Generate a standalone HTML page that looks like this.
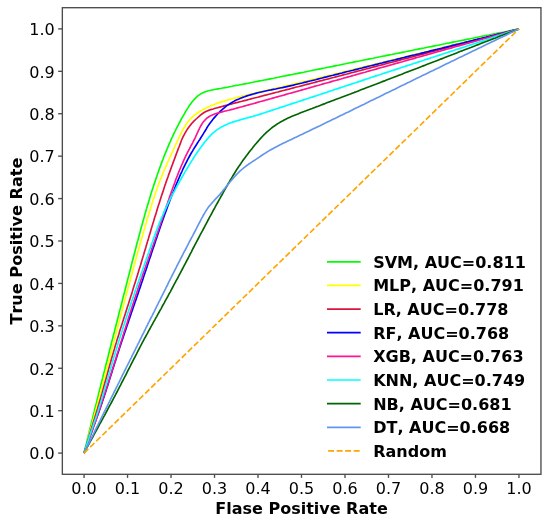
<!DOCTYPE html>
<html><head><meta charset="utf-8"><title>ROC</title>
<style>html,body{margin:0;padding:0;background:#fff;}svg{display:block;filter:blur(0.35px);}text{font-kerning:none;font-feature-settings:"kern" 0;}</style>
</head><body>
<svg width="550" height="522" viewBox="0 0 550 522">
<rect width="550" height="522" fill="#fff"/>
<defs><clipPath id="c"><rect x="62.35" y="7.7" width="478.6" height="466.6"/></clipPath></defs>
<g clip-path="url(#c)" fill="none" stroke-width="1.65" stroke-linejoin="round" stroke-linecap="butt">
<path d="M84.1,453.1 L84.6,450.8 L85.2,448.5 L85.7,446.2 L86.3,443.9 L86.8,441.6 L87.4,439.3 L88.0,437.0 L88.5,434.7 L89.1,432.4 L89.6,430.2 L90.2,427.9 L90.8,425.6 L91.3,423.3 L91.9,421.0 L92.5,418.7 L93.0,416.4 L93.6,414.1 L94.2,411.8 L94.7,409.5 L95.3,407.2 L95.9,404.9 L96.5,402.7 L97.0,400.4 L97.6,398.1 L98.2,395.8 L98.7,393.5 L99.3,391.2 L99.9,388.9 L100.5,386.6 L101.0,384.3 L101.6,382.1 L102.2,379.8 L102.8,377.5 L103.3,375.2 L103.9,372.9 L104.5,370.6 L105.1,368.3 L105.6,366.0 L106.2,363.7 L106.8,361.5 L107.4,359.2 L108.0,356.9 L108.5,354.6 L109.1,352.3 L109.7,350.0 L110.3,347.7 L110.9,345.5 L111.4,343.2 L112.0,340.9 L112.6,338.6 L113.2,336.3 L113.8,334.0 L114.4,331.7 L114.9,329.4 L115.5,327.2 L116.1,324.9 L116.7,322.6 L117.3,320.3 L117.9,318.0 L118.4,315.7 L119.0,313.4 L119.6,311.1 L120.2,308.9 L120.8,306.6 L121.4,304.3 L122.0,302.0 L122.5,299.7 L123.1,297.4 L123.7,295.1 L124.3,292.9 L124.9,290.6 L125.5,288.3 L126.1,286.0 L126.6,283.7 L127.2,281.4 L127.8,279.1 L128.4,276.8 L129.0,274.6 L129.6,272.3 L130.2,270.0 L130.7,267.7 L131.3,265.4 L131.9,263.1 L132.5,260.8 L133.1,258.5 L133.7,256.2 L134.3,254.0 L134.9,251.7 L135.5,249.4 L136.1,247.1 L136.6,244.8 L137.2,242.5 L137.9,240.2 L138.5,238.0 L139.1,235.7 L139.7,233.4 L140.3,231.1 L140.9,228.8 L141.5,226.6 L142.2,224.3 L142.8,222.0 L143.4,219.7 L144.1,217.5 L144.7,215.2 L145.3,212.9 L146.0,210.6 L146.7,208.4 L147.3,206.1 L148.0,203.9 L148.7,201.6 L149.4,199.3 L150.0,197.1 L150.7,194.8 L151.4,192.6 L152.1,190.3 L152.9,188.1 L153.6,185.8 L154.3,183.6 L155.1,181.4 L155.8,179.1 L156.6,176.9 L157.3,174.7 L158.1,172.5 L158.9,170.2 L159.7,168.0 L160.5,165.8 L161.3,163.6 L162.1,161.4 L163.0,159.2 L163.8,157.0 L164.7,154.8 L165.6,152.6 L166.5,150.4 L167.4,148.3 L168.3,146.1 L169.2,143.9 L170.2,141.8 L171.1,139.6 L172.1,137.5 L173.1,135.3 L174.1,133.2 L175.2,131.0 L176.2,128.9 L177.3,126.8 L178.4,124.7 L179.5,122.6 L180.6,120.5 L181.7,118.4 L182.9,116.3 L184.1,114.3 L185.3,112.2 L186.5,110.1 L187.8,108.1 L189.0,106.1 L190.4,104.2 L191.8,102.3 L193.3,100.5 L194.8,98.8 L196.4,97.2 L198.2,95.7 L200.0,94.4 L201.9,93.2 L204.0,92.3 L206.2,91.5 L208.5,90.8 L210.9,90.3 L213.3,89.8 L215.7,89.3 L218.0,88.9 L220.4,88.5 L222.7,88.0 L225.1,87.6 L227.4,87.2 L229.7,86.7 L232.0,86.3 L234.3,85.8 L236.6,85.4 L238.9,85.0 L241.2,84.5 L243.5,84.1 L245.9,83.6 L248.2,83.2 L250.5,82.7 L252.8,82.3 L255.1,81.8 L257.4,81.4 L259.7,80.9 L262.0,80.5 L264.4,80.0 L266.7,79.6 L269.0,79.1 L271.3,78.6 L273.6,78.2 L275.9,77.7 L278.2,77.3 L280.6,76.8 L282.9,76.3 L285.2,75.9 L287.5,75.4 L289.8,74.9 L292.1,74.5 L294.4,74.0 L296.8,73.6 L299.1,73.1 L301.4,72.6 L303.7,72.2 L306.0,71.7 L308.3,71.2 L310.7,70.8 L313.0,70.3 L315.3,69.8 L317.6,69.4 L319.9,68.9 L322.2,68.4 L324.5,68.0 L326.9,67.5 L329.2,67.0 L331.5,66.6 L333.8,66.1 L336.1,65.6 L338.4,65.2 L340.7,64.7 L343.1,64.2 L345.4,63.8 L347.7,63.3 L350.0,62.8 L352.3,62.4 L354.6,61.9 L356.9,61.4 L359.3,61.0 L361.6,60.5 L363.9,60.0 L366.2,59.6 L368.5,59.1 L370.8,58.6 L373.2,58.2 L375.5,57.7 L377.8,57.2 L380.1,56.8 L382.4,56.3 L384.7,55.9 L387.0,55.4 L389.4,54.9 L391.7,54.5 L394.0,54.0 L396.3,53.5 L398.6,53.1 L400.9,52.6 L403.2,52.1 L405.5,51.7 L407.9,51.2 L410.2,50.7 L412.5,50.3 L414.8,49.8 L417.1,49.4 L419.4,48.9 L421.7,48.4 L424.1,48.0 L426.4,47.5 L428.7,47.0 L431.0,46.6 L433.3,46.1 L435.6,45.6 L437.9,45.2 L440.3,44.7 L442.6,44.2 L444.9,43.8 L447.2,43.3 L449.5,42.9 L451.8,42.4 L454.1,41.9 L456.5,41.5 L458.8,41.0 L461.1,40.5 L463.4,40.1 L465.7,39.6 L468.0,39.1 L470.3,38.7 L472.7,38.2 L475.0,37.7 L477.3,37.3 L479.6,36.8 L481.9,36.3 L484.2,35.9 L486.5,35.4 L488.9,35.0 L491.2,34.5 L493.5,34.0 L495.8,33.6 L498.1,33.1 L500.4,32.6 L502.7,32.2 L505.1,31.7 L507.4,31.2 L509.7,30.8 L512.0,30.3 L514.3,29.8 L516.6,29.4 L519.0,28.9" stroke="#00FF00"/>
<path d="M84.0,453.1 L84.7,450.9 L85.3,448.6 L85.9,446.4 L86.5,444.2 L87.2,441.9 L87.8,439.7 L88.4,437.4 L89.0,435.2 L89.6,433.0 L90.2,430.7 L90.8,428.5 L91.5,426.2 L92.1,424.0 L92.7,421.8 L93.3,419.5 L93.9,417.3 L94.5,415.0 L95.1,412.8 L95.7,410.6 L96.3,408.3 L96.9,406.1 L97.5,403.8 L98.1,401.6 L98.7,399.3 L99.3,397.1 L99.9,394.9 L100.5,392.6 L101.1,390.4 L101.7,388.1 L102.3,385.9 L102.9,383.6 L103.5,381.4 L104.0,379.1 L104.6,376.9 L105.2,374.7 L105.8,372.4 L106.4,370.2 L107.0,367.9 L107.6,365.7 L108.2,363.4 L108.8,361.2 L109.4,358.9 L110.0,356.7 L110.5,354.4 L111.1,352.2 L111.7,349.9 L112.3,347.7 L112.9,345.5 L113.5,343.2 L114.1,341.0 L114.7,338.7 L115.3,336.5 L115.9,334.2 L116.4,332.0 L117.0,329.7 L117.6,327.5 L118.2,325.2 L118.8,323.0 L119.4,320.8 L120.0,318.5 L120.6,316.3 L121.2,314.0 L121.8,311.8 L122.4,309.5 L123.0,307.3 L123.6,305.0 L124.2,302.8 L124.8,300.6 L125.3,298.3 L125.9,296.1 L126.5,293.8 L127.1,291.6 L127.7,289.3 L128.3,287.1 L128.9,284.9 L129.6,282.6 L130.2,280.4 L130.8,278.1 L131.4,275.9 L132.0,273.7 L132.6,271.4 L133.2,269.2 L133.8,266.9 L134.4,264.7 L135.0,262.5 L135.6,260.2 L136.3,258.0 L136.9,255.7 L137.5,253.5 L138.1,251.3 L138.7,249.0 L139.4,246.8 L140.0,244.6 L140.6,242.3 L141.2,240.1 L141.9,237.9 L142.5,235.6 L143.1,233.4 L143.8,231.2 L144.4,228.9 L145.1,226.7 L145.7,224.5 L146.4,222.2 L147.0,220.0 L147.7,217.8 L148.3,215.5 L149.0,213.3 L149.7,211.1 L150.4,208.9 L151.0,206.7 L151.7,204.4 L152.4,202.2 L153.1,200.0 L153.9,197.8 L154.6,195.6 L155.3,193.4 L156.1,191.2 L156.9,189.0 L157.6,186.8 L158.4,184.7 L159.2,182.5 L160.1,180.3 L160.9,178.2 L161.8,176.0 L162.7,173.9 L163.5,171.7 L164.4,169.6 L165.4,167.5 L166.3,165.4 L167.2,163.2 L168.2,161.1 L169.1,159.0 L170.1,156.9 L171.1,154.8 L172.0,152.7 L173.0,150.6 L174.0,148.4 L175.0,146.3 L175.9,144.2 L176.9,142.1 L177.9,140.0 L178.9,137.9 L179.9,135.7 L180.9,133.6 L181.9,131.6 L183.0,129.5 L184.2,127.5 L185.4,125.5 L186.6,123.6 L188.0,121.7 L189.4,120.0 L191.0,118.3 L192.7,116.7 L194.4,115.2 L196.2,113.8 L198.1,112.5 L200.1,111.3 L202.1,110.1 L204.1,108.9 L206.2,107.9 L208.3,106.9 L210.5,105.9 L212.7,105.0 L214.8,104.2 L217.0,103.4 L219.2,102.6 L221.4,101.9 L223.6,101.2 L225.8,100.6 L228.0,99.9 L230.3,99.3 L232.5,98.7 L234.7,98.1 L237.0,97.5 L239.2,96.9 L241.5,96.3 L243.7,95.7 L246.0,95.2 L248.2,94.6 L250.5,94.1 L252.7,93.5 L255.0,93.0 L257.2,92.4 L259.5,91.9 L261.8,91.4 L264.0,90.9 L266.3,90.3 L268.5,89.8 L270.8,89.3 L273.1,88.8 L275.3,88.2 L277.6,87.7 L279.9,87.2 L282.1,86.7 L284.4,86.1 L286.6,85.6 L288.9,85.1 L291.2,84.5 L293.4,84.0 L295.7,83.4 L297.9,82.9 L300.2,82.4 L302.4,81.8 L304.7,81.3 L307.0,80.7 L309.2,80.2 L311.5,79.6 L313.7,79.1 L316.0,78.5 L318.2,78.0 L320.5,77.4 L322.7,76.9 L325.0,76.3 L327.3,75.8 L329.5,75.2 L331.8,74.7 L334.0,74.1 L336.3,73.6 L338.5,73.0 L340.8,72.5 L343.0,71.9 L345.3,71.3 L347.5,70.8 L349.8,70.2 L352.1,69.7 L354.3,69.1 L356.6,68.6 L358.8,68.0 L361.1,67.5 L363.3,66.9 L365.6,66.4 L367.8,65.8 L370.1,65.3 L372.4,64.7 L374.6,64.2 L376.9,63.6 L379.1,63.1 L381.4,62.5 L383.6,62.0 L385.9,61.4 L388.1,60.9 L390.4,60.3 L392.6,59.8 L394.9,59.2 L397.2,58.7 L399.4,58.1 L401.7,57.6 L403.9,57.0 L406.2,56.5 L408.4,55.9 L410.7,55.4 L412.9,54.8 L415.2,54.3 L417.5,53.7 L419.7,53.2 L422.0,52.6 L424.2,52.0 L426.5,51.5 L428.7,50.9 L431.0,50.4 L433.2,49.8 L435.5,49.3 L437.8,48.7 L440.0,48.2 L442.3,47.6 L444.5,47.1 L446.8,46.5 L449.0,46.0 L451.3,45.4 L453.5,44.9 L455.8,44.3 L458.1,43.8 L460.3,43.2 L462.6,42.7 L464.8,42.1 L467.1,41.6 L469.3,41.0 L471.6,40.5 L473.8,39.9 L476.1,39.4 L478.4,38.8 L480.6,38.3 L482.9,37.7 L485.1,37.2 L487.4,36.6 L489.6,36.1 L491.9,35.5 L494.1,35.0 L496.4,34.4 L498.7,33.9 L500.9,33.3 L503.2,32.8 L505.4,32.2 L507.7,31.7 L509.9,31.1 L512.2,30.6 L514.4,30.0 L516.7,29.5 L518.9,28.9" stroke="#FFFF00"/>
<path d="M84.1,453.1 L84.7,450.9 L85.3,448.7 L86.0,446.5 L86.7,444.2 L87.3,442.0 L88.0,439.8 L88.7,437.6 L89.3,435.4 L90.0,433.2 L90.7,431.0 L91.4,428.8 L92.1,426.6 L92.7,424.4 L93.4,422.2 L94.1,420.0 L94.8,417.8 L95.5,415.6 L96.1,413.4 L96.8,411.1 L97.5,408.9 L98.1,406.7 L98.8,404.5 L99.4,402.3 L100.1,400.1 L100.7,397.9 L101.3,395.6 L102.0,393.4 L102.6,391.2 L103.2,389.0 L103.8,386.7 L104.4,384.5 L105.0,382.3 L105.7,380.1 L106.3,377.8 L106.9,375.6 L107.5,373.4 L108.1,371.2 L108.7,368.9 L109.3,366.7 L109.9,364.5 L110.6,362.3 L111.2,360.0 L111.8,357.8 L112.5,355.6 L113.1,353.4 L113.7,351.2 L114.4,349.0 L115.0,346.7 L115.7,344.5 L116.4,342.3 L117.0,340.1 L117.7,337.9 L118.4,335.7 L119.1,333.5 L119.7,331.3 L120.4,329.1 L121.1,326.9 L121.8,324.7 L122.5,322.5 L123.2,320.3 L123.9,318.1 L124.6,315.9 L125.3,313.7 L126.0,311.5 L126.7,309.3 L127.4,307.1 L128.1,304.9 L128.8,302.7 L129.5,300.5 L130.2,298.3 L130.9,296.1 L131.6,293.9 L132.3,291.7 L132.9,289.5 L133.6,287.3 L134.3,285.1 L135.0,282.9 L135.7,280.7 L136.4,278.5 L137.1,276.3 L137.8,274.1 L138.4,271.9 L139.1,269.6 L139.8,267.4 L140.5,265.2 L141.1,263.0 L141.8,260.8 L142.5,258.6 L143.1,256.4 L143.8,254.2 L144.4,252.0 L145.1,249.8 L145.8,247.5 L146.4,245.3 L147.1,243.1 L147.7,240.9 L148.4,238.7 L149.0,236.5 L149.7,234.3 L150.4,232.1 L151.0,229.8 L151.7,227.6 L152.3,225.4 L153.0,223.2 L153.7,221.0 L154.3,218.8 L155.0,216.6 L155.7,214.4 L156.4,212.2 L157.0,210.0 L157.7,207.8 L158.4,205.6 L159.1,203.4 L159.8,201.2 L160.5,199.0 L161.2,196.8 L161.9,194.6 L162.7,192.4 L163.4,190.2 L164.1,188.0 L164.8,185.8 L165.6,183.6 L166.3,181.4 L167.1,179.3 L167.9,177.1 L168.6,174.9 L169.4,172.7 L170.2,170.6 L171.0,168.4 L171.8,166.2 L172.6,164.1 L173.4,161.9 L174.2,159.7 L175.0,157.6 L175.8,155.4 L176.6,153.3 L177.4,151.1 L178.2,148.9 L179.1,146.8 L179.9,144.6 L180.7,142.5 L181.5,140.3 L182.4,138.2 L183.4,136.1 L184.5,134.1 L185.6,132.1 L186.8,130.1 L188.0,128.2 L189.4,126.4 L190.8,124.6 L192.3,122.8 L193.9,121.2 L195.6,119.5 L197.3,118.0 L199.1,116.4 L200.8,114.9 L202.6,113.5 L204.5,112.3 L206.5,111.2 L208.7,110.4 L210.8,109.6 L213.1,109.0 L215.3,108.3 L217.5,107.7 L219.7,107.1 L222.0,106.5 L224.2,105.9 L226.4,105.3 L228.7,104.7 L230.9,104.1 L233.1,103.5 L235.4,102.9 L237.6,102.4 L239.8,101.8 L242.1,101.2 L244.3,100.6 L246.5,100.1 L248.8,99.5 L251.0,98.9 L253.2,98.3 L255.5,97.7 L257.7,97.2 L259.9,96.6 L262.2,96.0 L264.4,95.4 L266.6,94.9 L268.9,94.3 L271.1,93.7 L273.3,93.1 L275.6,92.5 L277.8,92.0 L280.0,91.4 L282.3,90.8 L284.5,90.2 L286.7,89.6 L289.0,89.1 L291.2,88.5 L293.4,87.9 L295.7,87.3 L297.9,86.8 L300.1,86.2 L302.4,85.6 L304.6,85.0 L306.8,84.4 L309.1,83.9 L311.3,83.3 L313.5,82.7 L315.8,82.1 L318.0,81.5 L320.2,80.9 L322.5,80.4 L324.7,79.8 L326.9,79.2 L329.2,78.6 L331.4,78.0 L333.6,77.5 L335.9,76.9 L338.1,76.3 L340.3,75.7 L342.6,75.1 L344.8,74.5 L347.0,74.0 L349.3,73.4 L351.5,72.8 L353.7,72.2 L356.0,71.6 L358.2,71.0 L360.4,70.5 L362.7,69.9 L364.9,69.3 L367.1,68.7 L369.4,68.1 L371.6,67.5 L373.8,66.9 L376.1,66.4 L378.3,65.8 L380.5,65.2 L382.8,64.6 L385.0,64.0 L387.2,63.4 L389.5,62.8 L391.7,62.3 L393.9,61.7 L396.2,61.1 L398.4,60.5 L400.6,59.9 L402.9,59.3 L405.1,58.7 L407.3,58.2 L409.6,57.6 L411.8,57.0 L414.0,56.4 L416.3,55.8 L418.5,55.2 L420.7,54.6 L422.9,54.1 L425.2,53.5 L427.4,52.9 L429.6,52.3 L431.9,51.7 L434.1,51.1 L436.3,50.5 L438.6,50.0 L440.8,49.4 L443.0,48.8 L445.3,48.2 L447.5,47.6 L449.7,47.0 L452.0,46.4 L454.2,45.8 L456.4,45.3 L458.7,44.7 L460.9,44.1 L463.1,43.5 L465.4,42.9 L467.6,42.3 L469.8,41.7 L472.1,41.2 L474.3,40.6 L476.5,40.0 L478.8,39.4 L481.0,38.8 L483.2,38.2 L485.5,37.7 L487.7,37.1 L489.9,36.5 L492.2,35.9 L494.4,35.3 L496.6,34.7 L498.9,34.1 L501.1,33.6 L503.3,33.0 L505.6,32.4 L507.8,31.8 L510.0,31.2 L512.2,30.6 L514.5,30.1 L516.7,29.5 L519.0,28.9" stroke="#DC143C"/>
<path d="M84.1,453.1 L84.8,450.9 L85.5,448.8 L86.3,446.6 L87.1,444.5 L87.8,442.3 L88.6,440.2 L89.4,438.1 L90.1,435.9 L90.9,433.8 L91.7,431.6 L92.5,429.5 L93.2,427.4 L94.0,425.2 L94.8,423.1 L95.6,420.9 L96.4,418.8 L97.1,416.6 L97.9,414.5 L98.7,412.4 L99.4,410.2 L100.2,408.1 L100.9,405.9 L101.7,403.8 L102.4,401.6 L103.1,399.4 L103.9,397.3 L104.6,395.1 L105.3,393.0 L106.0,390.8 L106.7,388.6 L107.4,386.4 L108.1,384.3 L108.8,382.1 L109.4,379.9 L110.1,377.7 L110.8,375.6 L111.5,373.4 L112.2,371.2 L112.8,369.0 L113.5,366.9 L114.2,364.7 L114.9,362.5 L115.6,360.4 L116.3,358.2 L117.0,356.0 L117.7,353.8 L118.4,351.7 L119.1,349.5 L119.8,347.3 L120.5,345.2 L121.2,343.0 L121.9,340.9 L122.7,338.7 L123.4,336.5 L124.1,334.4 L124.8,332.2 L125.6,330.1 L126.3,327.9 L127.0,325.7 L127.8,323.6 L128.5,321.4 L129.2,319.3 L130.0,317.1 L130.7,315.0 L131.4,312.8 L132.2,310.7 L132.9,308.5 L133.7,306.3 L134.4,304.2 L135.1,302.0 L135.9,299.9 L136.6,297.7 L137.3,295.6 L138.1,293.4 L138.8,291.3 L139.5,289.1 L140.3,286.9 L141.0,284.8 L141.7,282.6 L142.5,280.5 L143.2,278.3 L143.9,276.1 L144.6,274.0 L145.3,271.8 L146.1,269.6 L146.8,267.5 L147.5,265.3 L148.2,263.2 L148.9,261.0 L149.6,258.8 L150.4,256.7 L151.1,254.5 L151.8,252.3 L152.5,250.2 L153.2,248.0 L154.0,245.9 L154.7,243.7 L155.4,241.5 L156.1,239.4 L156.9,237.2 L157.6,235.1 L158.3,232.9 L159.1,230.7 L159.8,228.6 L160.5,226.4 L161.3,224.3 L162.0,222.1 L162.8,220.0 L163.6,217.8 L164.3,215.7 L165.1,213.5 L165.9,211.4 L166.7,209.3 L167.4,207.1 L168.2,205.0 L169.0,202.9 L169.8,200.7 L170.6,198.6 L171.5,196.5 L172.3,194.4 L173.1,192.2 L174.0,190.1 L174.8,188.0 L175.7,185.9 L176.5,183.8 L177.4,181.7 L178.3,179.6 L179.2,177.5 L180.1,175.4 L181.0,173.3 L182.0,171.3 L182.9,169.2 L183.9,167.2 L184.9,165.1 L185.9,163.1 L187.0,161.0 L188.0,159.0 L189.1,157.0 L190.2,155.0 L191.3,153.0 L192.5,151.1 L193.6,149.1 L194.8,147.2 L196.1,145.2 L197.3,143.3 L198.5,141.4 L199.8,139.5 L201.0,137.5 L202.2,135.6 L203.4,133.7 L204.6,131.7 L205.8,129.8 L206.9,127.8 L208.1,125.9 L209.4,124.0 L210.7,122.2 L212.1,120.4 L213.5,118.6 L215.0,116.9 L216.5,115.2 L218.1,113.5 L219.7,111.9 L221.3,110.3 L223.0,108.8 L224.8,107.3 L226.6,105.9 L228.4,104.6 L230.3,103.4 L232.3,102.2 L234.3,101.1 L236.3,100.1 L238.4,99.2 L240.5,98.3 L242.6,97.4 L244.7,96.7 L246.9,95.9 L249.1,95.2 L251.2,94.6 L253.4,94.0 L255.6,93.4 L257.8,92.8 L260.0,92.3 L262.3,91.8 L264.5,91.3 L266.7,90.8 L268.9,90.3 L271.2,89.9 L273.4,89.4 L275.6,89.0 L277.9,88.5 L280.1,88.0 L282.3,87.6 L284.6,87.1 L286.8,86.6 L289.0,86.1 L291.2,85.6 L293.4,85.1 L295.7,84.5 L297.9,84.0 L300.1,83.5 L302.3,83.0 L304.5,82.4 L306.7,81.9 L308.9,81.3 L311.2,80.8 L313.4,80.2 L315.6,79.7 L317.8,79.1 L320.0,78.5 L322.2,78.0 L324.4,77.4 L326.6,76.9 L328.8,76.3 L331.0,75.7 L333.2,75.2 L335.5,74.6 L337.7,74.1 L339.9,73.5 L342.1,73.0 L344.3,72.4 L346.5,71.8 L348.7,71.3 L350.9,70.7 L353.1,70.2 L355.3,69.6 L357.5,69.1 L359.8,68.5 L362.0,68.0 L364.2,67.4 L366.4,66.9 L368.6,66.3 L370.8,65.8 L373.0,65.2 L375.2,64.6 L377.4,64.1 L379.7,63.5 L381.9,63.0 L384.1,62.4 L386.3,61.9 L388.5,61.3 L390.7,60.8 L392.9,60.2 L395.1,59.7 L397.3,59.1 L399.6,58.6 L401.8,58.0 L404.0,57.5 L406.2,56.9 L408.4,56.4 L410.6,55.8 L412.8,55.3 L415.0,54.8 L417.2,54.2 L419.5,53.7 L421.7,53.1 L423.9,52.6 L426.1,52.0 L428.3,51.5 L430.5,50.9 L432.7,50.4 L434.9,49.8 L437.1,49.3 L439.4,48.7 L441.6,48.2 L443.8,47.6 L446.0,47.1 L448.2,46.5 L450.4,46.0 L452.6,45.4 L454.8,44.9 L457.0,44.3 L459.3,43.8 L461.5,43.2 L463.7,42.7 L465.9,42.1 L468.1,41.6 L470.3,41.0 L472.5,40.5 L474.7,39.9 L477.0,39.4 L479.2,38.8 L481.4,38.3 L483.6,37.7 L485.8,37.2 L488.0,36.6 L490.2,36.1 L492.4,35.5 L494.6,35.0 L496.8,34.4 L499.1,33.9 L501.3,33.3 L503.5,32.8 L505.7,32.2 L507.9,31.7 L510.1,31.1 L512.3,30.6 L514.5,30.0 L516.7,29.5 L518.9,28.9" stroke="#0000FF"/>
<path d="M84.0,453.1 L84.9,451.0 L85.7,448.8 L86.5,446.7 L87.3,444.5 L88.0,442.4 L88.8,440.3 L89.6,438.1 L90.4,436.0 L91.1,433.8 L91.9,431.7 L92.7,429.5 L93.4,427.3 L94.2,425.2 L94.9,423.0 L95.7,420.9 L96.4,418.7 L97.1,416.6 L97.9,414.4 L98.6,412.2 L99.3,410.1 L100.1,407.9 L100.8,405.7 L101.5,403.6 L102.2,401.4 L102.9,399.2 L103.6,397.1 L104.3,394.9 L105.0,392.7 L105.7,390.5 L106.4,388.4 L107.1,386.2 L107.8,384.0 L108.5,381.9 L109.2,379.7 L109.9,377.5 L110.6,375.3 L111.3,373.1 L112.0,371.0 L112.6,368.8 L113.3,366.6 L114.0,364.4 L114.7,362.3 L115.4,360.1 L116.1,357.9 L116.7,355.7 L117.4,353.5 L118.1,351.4 L118.8,349.2 L119.5,347.0 L120.1,344.8 L120.8,342.6 L121.5,340.5 L122.2,338.3 L122.9,336.1 L123.5,333.9 L124.2,331.7 L124.9,329.6 L125.6,327.4 L126.3,325.2 L127.0,323.0 L127.6,320.9 L128.3,318.7 L129.0,316.5 L129.7,314.3 L130.4,312.1 L131.1,310.0 L131.8,307.8 L132.5,305.6 L133.2,303.5 L133.9,301.3 L134.6,299.1 L135.3,296.9 L136.0,294.8 L136.8,292.6 L137.5,290.4 L138.2,288.3 L138.9,286.1 L139.7,283.9 L140.4,281.8 L141.1,279.6 L141.9,277.5 L142.6,275.3 L143.3,273.1 L144.1,271.0 L144.8,268.8 L145.6,266.7 L146.3,264.5 L147.1,262.4 L147.9,260.2 L148.6,258.0 L149.4,255.9 L150.1,253.7 L150.9,251.6 L151.6,249.4 L152.4,247.3 L153.2,245.1 L153.9,243.0 L154.7,240.8 L155.4,238.7 L156.2,236.5 L156.9,234.3 L157.7,232.2 L158.4,230.0 L159.1,227.9 L159.9,225.7 L160.6,223.5 L161.3,221.4 L162.1,219.2 L162.8,217.1 L163.5,214.9 L164.2,212.7 L165.0,210.6 L165.7,208.4 L166.4,206.3 L167.2,204.1 L167.9,201.9 L168.7,199.8 L169.4,197.6 L170.1,195.5 L170.9,193.3 L171.7,191.1 L172.4,189.0 L173.2,186.8 L174.0,184.7 L174.8,182.5 L175.5,180.4 L176.3,178.3 L177.2,176.1 L178.0,174.0 L178.8,171.9 L179.7,169.8 L180.6,167.6 L181.5,165.5 L182.4,163.5 L183.3,161.4 L184.2,159.3 L185.2,157.2 L186.2,155.2 L187.2,153.1 L188.2,151.1 L189.3,149.1 L190.3,147.1 L191.4,145.1 L192.5,143.1 L193.5,141.0 L194.6,139.0 L195.6,136.9 L196.5,134.8 L197.5,132.7 L198.4,130.6 L199.4,128.6 L200.4,126.5 L201.6,124.5 L202.8,122.6 L204.2,120.9 L205.8,119.2 L207.5,117.7 L209.3,116.5 L211.3,115.4 L213.4,114.5 L215.5,113.8 L217.7,113.1 L219.9,112.5 L222.1,111.9 L224.3,111.3 L226.5,110.7 L228.8,110.2 L231.0,109.6 L233.2,109.1 L235.4,108.5 L237.6,107.9 L239.8,107.3 L242.0,106.7 L244.2,106.1 L246.4,105.5 L248.6,104.9 L250.8,104.3 L253.0,103.7 L255.2,103.1 L257.4,102.4 L259.6,101.8 L261.8,101.2 L264.0,100.6 L266.2,100.0 L268.4,99.4 L270.6,98.8 L272.8,98.1 L275.0,97.5 L277.2,96.9 L279.4,96.3 L281.6,95.7 L283.8,95.1 L286.0,94.4 L288.2,93.8 L290.4,93.2 L292.6,92.6 L294.8,92.0 L297.0,91.4 L299.2,90.7 L301.4,90.1 L303.6,89.5 L305.8,88.9 L307.9,88.3 L310.1,87.6 L312.3,87.0 L314.5,86.4 L316.7,85.8 L318.9,85.2 L321.1,84.5 L323.3,83.9 L325.5,83.3 L327.7,82.7 L329.9,82.1 L332.1,81.4 L334.3,80.8 L336.5,80.2 L338.7,79.6 L340.9,79.0 L343.1,78.3 L345.3,77.7 L347.5,77.1 L349.7,76.5 L351.9,75.9 L354.1,75.3 L356.3,74.6 L358.5,74.0 L360.7,73.4 L362.9,72.8 L365.1,72.2 L367.3,71.5 L369.5,70.9 L371.7,70.3 L373.9,69.7 L376.1,69.1 L378.3,68.4 L380.5,67.8 L382.7,67.2 L384.9,66.6 L387.1,66.0 L389.3,65.4 L391.5,64.7 L393.7,64.1 L395.9,63.5 L398.1,62.9 L400.3,62.3 L402.5,61.7 L404.7,61.0 L406.9,60.4 L409.1,59.8 L411.3,59.2 L413.5,58.6 L415.6,57.9 L417.8,57.3 L420.0,56.7 L422.2,56.1 L424.4,55.5 L426.6,54.9 L428.8,54.2 L431.0,53.6 L433.2,53.0 L435.4,52.4 L437.6,51.8 L439.8,51.2 L442.0,50.5 L444.2,49.9 L446.4,49.3 L448.6,48.7 L450.8,48.1 L453.0,47.4 L455.2,46.8 L457.4,46.2 L459.6,45.6 L461.8,45.0 L464.0,44.4 L466.2,43.7 L468.4,43.1 L470.6,42.5 L472.8,41.9 L475.0,41.3 L477.2,40.7 L479.4,40.0 L481.6,39.4 L483.8,38.8 L486.0,38.2 L488.2,37.6 L490.4,36.9 L492.6,36.3 L494.8,35.7 L497.0,35.1 L499.2,34.5 L501.4,33.9 L503.6,33.2 L505.8,32.6 L508.0,32.0 L510.2,31.4 L512.4,30.8 L514.6,30.1 L516.8,29.5 L519.0,28.9" stroke="#FF1493"/>
<path d="M84.1,453.1 L84.7,451.0 L85.4,448.8 L86.1,446.7 L86.8,444.5 L87.5,442.4 L88.2,440.3 L88.9,438.1 L89.6,436.0 L90.3,433.9 L91.0,431.8 L91.8,429.6 L92.5,427.5 L93.2,425.4 L93.9,423.3 L94.7,421.1 L95.4,419.0 L96.1,416.9 L96.8,414.7 L97.5,412.6 L98.2,410.5 L98.8,408.3 L99.5,406.2 L100.2,404.0 L100.8,401.9 L101.5,399.8 L102.1,397.6 L102.8,395.5 L103.4,393.3 L104.0,391.1 L104.7,389.0 L105.3,386.8 L105.9,384.7 L106.6,382.5 L107.2,380.4 L107.8,378.2 L108.4,376.1 L109.0,373.9 L109.7,371.7 L110.3,369.6 L110.9,367.4 L111.6,365.3 L112.2,363.1 L112.8,361.0 L113.5,358.8 L114.1,356.7 L114.8,354.5 L115.4,352.4 L116.1,350.2 L116.7,348.1 L117.4,345.9 L118.0,343.8 L118.7,341.6 L119.4,339.5 L120.0,337.3 L120.7,335.2 L121.4,333.1 L122.1,330.9 L122.7,328.8 L123.4,326.6 L124.1,324.5 L124.8,322.4 L125.5,320.2 L126.2,318.1 L126.9,316.0 L127.6,313.8 L128.3,311.7 L129.0,309.6 L129.7,307.4 L130.4,305.3 L131.1,303.2 L131.8,301.0 L132.5,298.9 L133.3,296.8 L134.0,294.7 L134.7,292.5 L135.4,290.4 L136.2,288.3 L136.9,286.2 L137.6,284.1 L138.4,281.9 L139.1,279.8 L139.8,277.7 L140.6,275.6 L141.3,273.5 L142.1,271.3 L142.8,269.2 L143.6,267.1 L144.3,265.0 L145.0,262.9 L145.8,260.7 L146.5,258.6 L147.3,256.5 L148.0,254.4 L148.8,252.3 L149.5,250.2 L150.2,248.0 L151.0,245.9 L151.7,243.8 L152.5,241.7 L153.2,239.6 L154.0,237.4 L154.7,235.3 L155.5,233.2 L156.3,231.1 L157.1,229.0 L157.9,226.9 L158.7,224.8 L159.5,222.7 L160.3,220.7 L161.2,218.6 L162.1,216.5 L163.0,214.5 L163.9,212.4 L164.8,210.4 L165.7,208.3 L166.7,206.3 L167.6,204.3 L168.6,202.3 L169.6,200.2 L170.6,198.2 L171.7,196.2 L172.7,194.2 L173.7,192.3 L174.8,190.3 L175.8,188.3 L176.9,186.3 L178.0,184.3 L179.1,182.4 L180.2,180.4 L181.3,178.5 L182.4,176.5 L183.5,174.6 L184.6,172.6 L185.8,170.7 L186.9,168.8 L188.1,166.8 L189.2,164.9 L190.4,163.0 L191.6,161.1 L192.8,159.2 L194.0,157.3 L195.2,155.4 L196.4,153.6 L197.7,151.7 L199.0,149.9 L200.3,148.0 L201.6,146.2 L203.0,144.4 L204.3,142.6 L205.7,140.9 L207.2,139.1 L208.6,137.4 L210.2,135.8 L211.8,134.2 L213.4,132.7 L215.1,131.3 L216.9,129.9 L218.7,128.6 L220.6,127.5 L222.5,126.4 L224.5,125.4 L226.6,124.4 L228.7,123.6 L230.8,122.8 L232.9,122.1 L235.1,121.4 L237.2,120.7 L239.4,120.1 L241.5,119.5 L243.7,118.9 L245.9,118.3 L248.0,117.7 L250.2,117.1 L252.4,116.5 L254.5,115.9 L256.7,115.2 L258.8,114.6 L260.9,113.9 L263.1,113.2 L265.2,112.5 L267.4,111.8 L269.5,111.1 L271.6,110.4 L273.8,109.7 L275.9,109.0 L278.0,108.3 L280.2,107.6 L282.3,106.9 L284.4,106.2 L286.6,105.5 L288.7,104.8 L290.8,104.1 L292.9,103.4 L295.1,102.7 L297.2,102.0 L299.3,101.3 L301.5,100.6 L303.6,99.9 L305.7,99.2 L307.9,98.5 L310.0,97.8 L312.1,97.1 L314.3,96.4 L316.4,95.7 L318.5,95.0 L320.7,94.3 L322.8,93.6 L324.9,92.9 L327.0,92.2 L329.2,91.4 L331.3,90.7 L333.4,90.0 L335.6,89.3 L337.7,88.6 L339.8,87.9 L342.0,87.2 L344.1,86.5 L346.2,85.8 L348.4,85.1 L350.5,84.4 L352.6,83.7 L354.8,83.0 L356.9,82.3 L359.0,81.6 L361.1,80.9 L363.3,80.1 L365.4,79.4 L367.5,78.7 L369.7,78.0 L371.8,77.3 L373.9,76.6 L376.1,75.9 L378.2,75.2 L380.3,74.5 L382.5,73.8 L384.6,73.1 L386.7,72.4 L388.9,71.7 L391.0,71.0 L393.1,70.3 L395.3,69.6 L397.4,68.9 L399.5,68.2 L401.7,67.5 L403.8,66.8 L405.9,66.1 L408.1,65.4 L410.2,64.7 L412.3,64.0 L414.5,63.3 L416.6,62.6 L418.7,61.9 L420.9,61.2 L423.0,60.5 L425.1,59.8 L427.3,59.1 L429.4,58.4 L431.5,57.7 L433.7,57.0 L435.8,56.3 L437.9,55.6 L440.1,54.9 L442.2,54.2 L444.3,53.5 L446.4,52.8 L448.6,52.1 L450.7,51.4 L452.8,50.7 L455.0,50.0 L457.1,49.3 L459.2,48.6 L461.4,47.9 L463.5,47.2 L465.6,46.5 L467.8,45.8 L469.9,45.1 L472.0,44.4 L474.2,43.7 L476.3,43.0 L478.4,42.3 L480.6,41.6 L482.7,40.9 L484.8,40.2 L487.0,39.5 L489.1,38.8 L491.2,38.1 L493.4,37.3 L495.5,36.6 L497.6,35.9 L499.8,35.2 L501.9,34.5 L504.0,33.8 L506.2,33.1 L508.3,32.4 L510.4,31.7 L512.6,31.0 L514.7,30.3 L516.8,29.6 L518.9,28.9" stroke="#00FFFF"/>
<path d="M84.1,453.1 L85.1,451.2 L86.1,449.3 L87.1,447.4 L88.1,445.5 L89.2,443.6 L90.2,441.7 L91.2,439.8 L92.2,438.0 L93.3,436.1 L94.3,434.2 L95.3,432.3 L96.4,430.4 L97.4,428.5 L98.4,426.6 L99.4,424.7 L100.5,422.8 L101.5,420.9 L102.5,419.1 L103.5,417.2 L104.6,415.3 L105.6,413.4 L106.6,411.5 L107.6,409.6 L108.6,407.7 L109.6,405.8 L110.7,403.9 L111.7,402.0 L112.7,400.1 L113.7,398.2 L114.7,396.3 L115.7,394.4 L116.7,392.5 L117.7,390.6 L118.7,388.6 L119.7,386.7 L120.7,384.8 L121.6,382.9 L122.6,381.0 L123.6,379.1 L124.6,377.2 L125.6,375.3 L126.6,373.3 L127.5,371.4 L128.5,369.5 L129.5,367.6 L130.5,365.7 L131.4,363.8 L132.4,361.8 L133.4,359.9 L134.4,358.0 L135.4,356.1 L136.4,354.2 L137.3,352.3 L138.3,350.4 L139.3,348.5 L140.3,346.5 L141.3,344.6 L142.3,342.7 L143.3,340.8 L144.3,338.9 L145.4,337.0 L146.4,335.1 L147.4,333.3 L148.4,331.4 L149.5,329.5 L150.5,327.6 L151.6,325.7 L152.6,323.8 L153.6,321.9 L154.7,320.1 L155.7,318.2 L156.8,316.3 L157.8,314.4 L158.9,312.5 L159.9,310.7 L161.0,308.8 L162.0,306.9 L163.0,305.0 L164.1,303.1 L165.1,301.2 L166.1,299.4 L167.2,297.5 L168.2,295.6 L169.2,293.7 L170.3,291.8 L171.3,289.9 L172.3,288.0 L173.3,286.1 L174.3,284.2 L175.3,282.3 L176.3,280.4 L177.4,278.5 L178.4,276.6 L179.4,274.7 L180.4,272.8 L181.4,270.9 L182.4,269.0 L183.4,267.1 L184.4,265.2 L185.4,263.3 L186.4,261.4 L187.4,259.5 L188.4,257.6 L189.4,255.6 L190.4,253.7 L191.4,251.8 L192.3,249.9 L193.3,248.0 L194.3,246.1 L195.3,244.2 L196.3,242.3 L197.3,240.4 L198.3,238.5 L199.3,236.6 L200.3,234.7 L201.3,232.8 L202.4,230.9 L203.4,229.0 L204.4,227.1 L205.4,225.2 L206.4,223.3 L207.4,221.4 L208.4,219.5 L209.4,217.6 L210.5,215.7 L211.5,213.8 L212.5,211.9 L213.5,210.0 L214.6,208.1 L215.6,206.2 L216.6,204.4 L217.7,202.5 L218.7,200.6 L219.8,198.7 L220.8,196.8 L221.9,195.0 L222.9,193.1 L224.0,191.2 L225.0,189.3 L226.1,187.5 L227.2,185.6 L228.2,183.7 L229.3,181.9 L230.4,180.0 L231.5,178.2 L232.6,176.3 L233.7,174.5 L234.8,172.7 L236.0,170.8 L237.1,169.0 L238.3,167.2 L239.5,165.4 L240.7,163.7 L241.9,161.9 L243.2,160.1 L244.4,158.4 L245.7,156.7 L247.0,155.0 L248.3,153.2 L249.6,151.5 L250.9,149.9 L252.3,148.2 L253.6,146.5 L255.0,144.8 L256.4,143.2 L257.8,141.6 L259.2,140.0 L260.6,138.4 L262.1,136.8 L263.6,135.2 L265.2,133.7 L266.7,132.2 L268.3,130.8 L270.0,129.4 L271.6,128.0 L273.3,126.7 L275.1,125.5 L276.8,124.3 L278.7,123.1 L280.5,122.0 L282.4,121.0 L284.2,120.0 L286.2,119.0 L288.1,118.1 L290.0,117.2 L292.0,116.3 L294.0,115.5 L296.0,114.7 L298.0,113.9 L300.0,113.1 L302.0,112.3 L304.1,111.5 L306.1,110.8 L308.1,110.0 L310.1,109.2 L312.1,108.5 L314.1,107.7 L316.1,106.9 L318.1,106.2 L320.2,105.4 L322.2,104.6 L324.2,103.9 L326.2,103.1 L328.2,102.3 L330.2,101.6 L332.2,100.8 L334.2,100.1 L336.2,99.3 L338.3,98.5 L340.3,97.8 L342.3,97.0 L344.3,96.2 L346.3,95.5 L348.3,94.7 L350.3,94.0 L352.3,93.2 L354.3,92.4 L356.3,91.7 L358.3,90.9 L360.4,90.1 L362.4,89.3 L364.4,88.6 L366.4,87.8 L368.4,87.0 L370.4,86.3 L372.4,85.5 L374.4,84.7 L376.4,84.0 L378.4,83.2 L380.4,82.4 L382.4,81.6 L384.5,80.9 L386.5,80.1 L388.5,79.3 L390.5,78.5 L392.5,77.8 L394.5,77.0 L396.5,76.2 L398.5,75.4 L400.5,74.7 L402.5,73.9 L404.5,73.1 L406.5,72.3 L408.5,71.6 L410.6,70.8 L412.6,70.0 L414.6,69.2 L416.6,68.5 L418.6,67.7 L420.6,66.9 L422.6,66.1 L424.6,65.4 L426.6,64.6 L428.6,63.8 L430.6,63.0 L432.6,62.2 L434.6,61.5 L436.6,60.7 L438.7,59.9 L440.7,59.1 L442.7,58.4 L444.7,57.6 L446.7,56.8 L448.7,56.0 L450.7,55.2 L452.7,54.5 L454.7,53.7 L456.7,52.9 L458.7,52.1 L460.7,51.3 L462.7,50.6 L464.7,49.8 L466.8,49.0 L468.8,48.2 L470.8,47.5 L472.8,46.7 L474.8,45.9 L476.8,45.1 L478.8,44.4 L480.8,43.6 L482.8,42.8 L484.8,42.0 L486.8,41.3 L488.8,40.5 L490.8,39.7 L492.8,38.9 L494.9,38.2 L496.9,37.4 L498.9,36.6 L500.9,35.8 L502.9,35.1 L504.9,34.3 L506.9,33.5 L508.9,32.8 L510.9,32.0 L512.9,31.2 L514.9,30.4 L516.9,29.7 L519.0,28.9" stroke="#006400"/>
<path d="M84.0,453.1 L85.0,451.2 L85.9,449.3 L86.9,447.4 L87.8,445.4 L88.8,443.5 L89.7,441.6 L90.6,439.7 L91.6,437.8 L92.5,435.9 L93.5,434.0 L94.4,432.1 L95.3,430.2 L96.3,428.2 L97.2,426.3 L98.2,424.4 L99.1,422.5 L100.1,420.6 L101.0,418.7 L101.9,416.8 L102.9,414.9 L103.8,412.9 L104.8,411.0 L105.7,409.1 L106.7,407.2 L107.6,405.3 L108.6,403.4 L109.5,401.5 L110.4,399.6 L111.4,397.7 L112.3,395.8 L113.3,393.8 L114.2,391.9 L115.2,390.0 L116.1,388.1 L117.1,386.2 L118.0,384.3 L119.0,382.4 L119.9,380.5 L120.8,378.6 L121.8,376.7 L122.7,374.7 L123.7,372.8 L124.6,370.9 L125.6,369.0 L126.5,367.1 L127.5,365.2 L128.4,363.3 L129.4,361.4 L130.3,359.5 L131.3,357.6 L132.2,355.7 L133.2,353.7 L134.1,351.8 L135.1,349.9 L136.0,348.0 L137.0,346.1 L137.9,344.2 L138.9,342.3 L139.8,340.4 L140.8,338.5 L141.7,336.6 L142.6,334.7 L143.6,332.8 L144.5,330.8 L145.5,328.9 L146.4,327.0 L147.4,325.1 L148.3,323.2 L149.3,321.3 L150.2,319.4 L151.2,317.5 L152.2,315.6 L153.1,313.7 L154.1,311.8 L155.0,309.9 L156.0,307.9 L156.9,306.0 L157.9,304.1 L158.8,302.2 L159.8,300.3 L160.7,298.4 L161.7,296.5 L162.6,294.6 L163.6,292.7 L164.5,290.8 L165.5,288.9 L166.4,287.0 L167.4,285.1 L168.3,283.2 L169.3,281.2 L170.2,279.3 L171.2,277.4 L172.1,275.5 L173.1,273.6 L174.1,271.7 L175.0,269.8 L176.0,267.9 L176.9,266.0 L177.9,264.1 L178.9,262.2 L179.8,260.3 L180.8,258.4 L181.8,256.5 L182.8,254.6 L183.7,252.7 L184.7,250.8 L185.7,249.0 L186.7,247.1 L187.7,245.2 L188.6,243.3 L189.6,241.4 L190.6,239.5 L191.6,237.6 L192.6,235.8 L193.6,233.9 L194.6,232.0 L195.6,230.1 L196.6,228.2 L197.5,226.3 L198.5,224.4 L199.5,222.5 L200.5,220.6 L201.5,218.7 L202.5,216.9 L203.5,215.0 L204.6,213.2 L205.7,211.3 L206.8,209.6 L208.0,207.8 L209.3,206.1 L210.7,204.5 L212.0,202.9 L213.5,201.3 L214.9,199.7 L216.4,198.2 L217.8,196.6 L219.3,195.0 L220.7,193.4 L222.1,191.8 L223.4,190.1 L224.8,188.5 L226.1,186.8 L227.5,185.1 L228.8,183.5 L230.2,181.8 L231.5,180.2 L232.9,178.6 L234.3,177.0 L235.7,175.4 L237.2,173.9 L238.7,172.3 L240.2,170.9 L241.8,169.5 L243.4,168.1 L245.1,166.8 L246.8,165.5 L248.5,164.3 L250.3,163.1 L252.1,161.9 L253.8,160.8 L255.6,159.6 L257.4,158.4 L259.2,157.2 L260.9,156.0 L262.7,154.8 L264.5,153.6 L266.3,152.5 L268.1,151.4 L269.9,150.3 L271.8,149.2 L273.6,148.2 L275.5,147.2 L277.4,146.2 L279.3,145.2 L281.2,144.3 L283.1,143.3 L285.0,142.4 L286.9,141.5 L288.9,140.6 L290.8,139.7 L292.7,138.7 L294.6,137.8 L296.6,136.9 L298.5,136.0 L300.4,135.1 L302.3,134.2 L304.2,133.2 L306.2,132.3 L308.1,131.4 L310.0,130.5 L311.9,129.6 L313.9,128.6 L315.8,127.7 L317.7,126.8 L319.6,125.9 L321.5,124.9 L323.4,124.0 L325.4,123.1 L327.3,122.1 L329.2,121.2 L331.1,120.3 L333.0,119.3 L335.0,118.4 L336.9,117.5 L338.8,116.5 L340.7,115.6 L342.6,114.7 L344.5,113.7 L346.4,112.8 L348.4,111.9 L350.3,110.9 L352.2,110.0 L354.1,109.0 L356.0,108.1 L357.9,107.2 L359.8,106.2 L361.8,105.3 L363.7,104.4 L365.6,103.4 L367.5,102.5 L369.4,101.5 L371.3,100.6 L373.2,99.7 L375.2,98.7 L377.1,97.8 L379.0,96.9 L380.9,95.9 L382.8,95.0 L384.7,94.0 L386.6,93.1 L388.6,92.2 L390.5,91.2 L392.4,90.3 L394.3,89.4 L396.2,88.4 L398.1,87.5 L400.0,86.5 L402.0,85.6 L403.9,84.7 L405.8,83.7 L407.7,82.8 L409.6,81.9 L411.5,80.9 L413.4,80.0 L415.4,79.1 L417.3,78.1 L419.2,77.2 L421.1,76.3 L423.0,75.3 L424.9,74.4 L426.9,73.5 L428.8,72.5 L430.7,71.6 L432.6,70.7 L434.5,69.7 L436.4,68.8 L438.4,67.9 L440.3,66.9 L442.2,66.0 L444.1,65.1 L446.0,64.1 L447.9,63.2 L449.9,62.3 L451.8,61.3 L453.7,60.4 L455.6,59.5 L457.5,58.5 L459.4,57.6 L461.4,56.7 L463.3,55.8 L465.2,54.8 L467.1,53.9 L469.0,53.0 L471.0,52.0 L472.9,51.1 L474.8,50.2 L476.7,49.3 L478.6,48.3 L480.5,47.4 L482.5,46.5 L484.4,45.5 L486.3,44.6 L488.2,43.7 L490.1,42.8 L492.1,41.8 L494.0,40.9 L495.9,40.0 L497.8,39.1 L499.7,38.1 L501.7,37.2 L503.6,36.3 L505.5,35.4 L507.4,34.4 L509.3,33.5 L511.3,32.6 L513.2,31.7 L515.1,30.7 L517.0,29.8 L519.0,28.9" stroke="#6495ED"/>
<line x1="84.05" y1="453.10" x2="518.95" y2="28.90" stroke="#FFA500" stroke-dasharray="5.955 2.575"/>
</g>
<rect x="62.35" y="7.7" width="478.60" height="466.60" fill="none" stroke="#4c4c4c" stroke-width="1.35"/>
<g stroke="#4c4c4c" stroke-width="1.35">
<line x1="84.05" y1="474.3" x2="84.05" y2="477.90000000000003"/>
<line x1="58.15" y1="453.10" x2="62.35" y2="453.10"/>
<line x1="127.54" y1="474.3" x2="127.54" y2="477.90000000000003"/>
<line x1="58.15" y1="410.68" x2="62.35" y2="410.68"/>
<line x1="171.03" y1="474.3" x2="171.03" y2="477.90000000000003"/>
<line x1="58.15" y1="368.26" x2="62.35" y2="368.26"/>
<line x1="214.52" y1="474.3" x2="214.52" y2="477.90000000000003"/>
<line x1="58.15" y1="325.84" x2="62.35" y2="325.84"/>
<line x1="258.01" y1="474.3" x2="258.01" y2="477.90000000000003"/>
<line x1="58.15" y1="283.42" x2="62.35" y2="283.42"/>
<line x1="301.50" y1="474.3" x2="301.50" y2="477.90000000000003"/>
<line x1="58.15" y1="241.00" x2="62.35" y2="241.00"/>
<line x1="344.99" y1="474.3" x2="344.99" y2="477.90000000000003"/>
<line x1="58.15" y1="198.58" x2="62.35" y2="198.58"/>
<line x1="388.48" y1="474.3" x2="388.48" y2="477.90000000000003"/>
<line x1="58.15" y1="156.16" x2="62.35" y2="156.16"/>
<line x1="431.97" y1="474.3" x2="431.97" y2="477.90000000000003"/>
<line x1="58.15" y1="113.74" x2="62.35" y2="113.74"/>
<line x1="475.46" y1="474.3" x2="475.46" y2="477.90000000000003"/>
<line x1="58.15" y1="71.32" x2="62.35" y2="71.32"/>
<line x1="518.95" y1="474.3" x2="518.95" y2="477.90000000000003"/>
<line x1="58.15" y1="28.90" x2="62.35" y2="28.90"/>
</g>
<g font-family="DejaVu Sans, sans-serif" font-size="16" fill="#000">
<text x="84.05" y="493.9" text-anchor="middle">0.0</text>
<text x="54.8" y="459.40" text-anchor="end">0.0</text>
<text x="127.54" y="493.9" text-anchor="middle">0.1</text>
<text x="54.8" y="416.98" text-anchor="end">0.1</text>
<text x="171.03" y="493.9" text-anchor="middle">0.2</text>
<text x="54.8" y="374.56" text-anchor="end">0.2</text>
<text x="214.52" y="493.9" text-anchor="middle">0.3</text>
<text x="54.8" y="332.14" text-anchor="end">0.3</text>
<text x="258.01" y="493.9" text-anchor="middle">0.4</text>
<text x="54.8" y="289.72" text-anchor="end">0.4</text>
<text x="301.50" y="493.9" text-anchor="middle">0.5</text>
<text x="54.8" y="247.30" text-anchor="end">0.5</text>
<text x="344.99" y="493.9" text-anchor="middle">0.6</text>
<text x="54.8" y="204.88" text-anchor="end">0.6</text>
<text x="388.48" y="493.9" text-anchor="middle">0.7</text>
<text x="54.8" y="162.46" text-anchor="end">0.7</text>
<text x="431.97" y="493.9" text-anchor="middle">0.8</text>
<text x="54.8" y="120.04" text-anchor="end">0.8</text>
<text x="475.46" y="493.9" text-anchor="middle">0.9</text>
<text x="54.8" y="77.62" text-anchor="end">0.9</text>
<text x="518.95" y="493.9" text-anchor="middle">1.0</text>
<text x="54.8" y="35.20" text-anchor="end">1.0</text>
</g>
<g font-family="DejaVu Sans, sans-serif" font-size="16" font-weight="bold" fill="#000">
<text x="301.5" y="514.2" text-anchor="middle">Flase Positive Rate</text>
<text transform="translate(21.8,241.1) rotate(-90)" x="0" y="0" text-anchor="middle" font-size="16.1">True Positive Rate</text>
<text x="373.2" y="267.70">SVM, AUC=0.811</text>
<text x="373.2" y="291.34">MLP, AUC=0.791</text>
<text x="373.2" y="314.98">LR, AUC=0.778</text>
<text x="373.2" y="338.62">RF, AUC=0.768</text>
<text x="373.2" y="362.26">XGB, AUC=0.763</text>
<text x="373.2" y="385.90">KNN, AUC=0.749</text>
<text x="373.2" y="409.54">NB, AUC=0.681</text>
<text x="373.2" y="433.18">DT, AUC=0.668</text>
<text x="373.2" y="456.82">Random</text>
</g>
<g fill="none" stroke-width="1.7">
<line x1="327" y1="261.80" x2="360.7" y2="261.80" stroke="#00FF00"/>
<line x1="327" y1="285.44" x2="360.7" y2="285.44" stroke="#FFFF00"/>
<line x1="327" y1="309.08" x2="360.7" y2="309.08" stroke="#DC143C"/>
<line x1="327" y1="332.72" x2="360.7" y2="332.72" stroke="#0000FF"/>
<line x1="327" y1="356.36" x2="360.7" y2="356.36" stroke="#FF1493"/>
<line x1="327" y1="380.00" x2="360.7" y2="380.00" stroke="#00FFFF"/>
<line x1="327" y1="403.64" x2="360.7" y2="403.64" stroke="#006400"/>
<line x1="327" y1="427.28" x2="360.7" y2="427.28" stroke="#6495ED"/>
<line x1="328.1" y1="450.92" x2="360.6" y2="450.92" stroke="#FFA500" stroke-dasharray="5.955 2.575"/>
</g>
</svg>
</body></html>
